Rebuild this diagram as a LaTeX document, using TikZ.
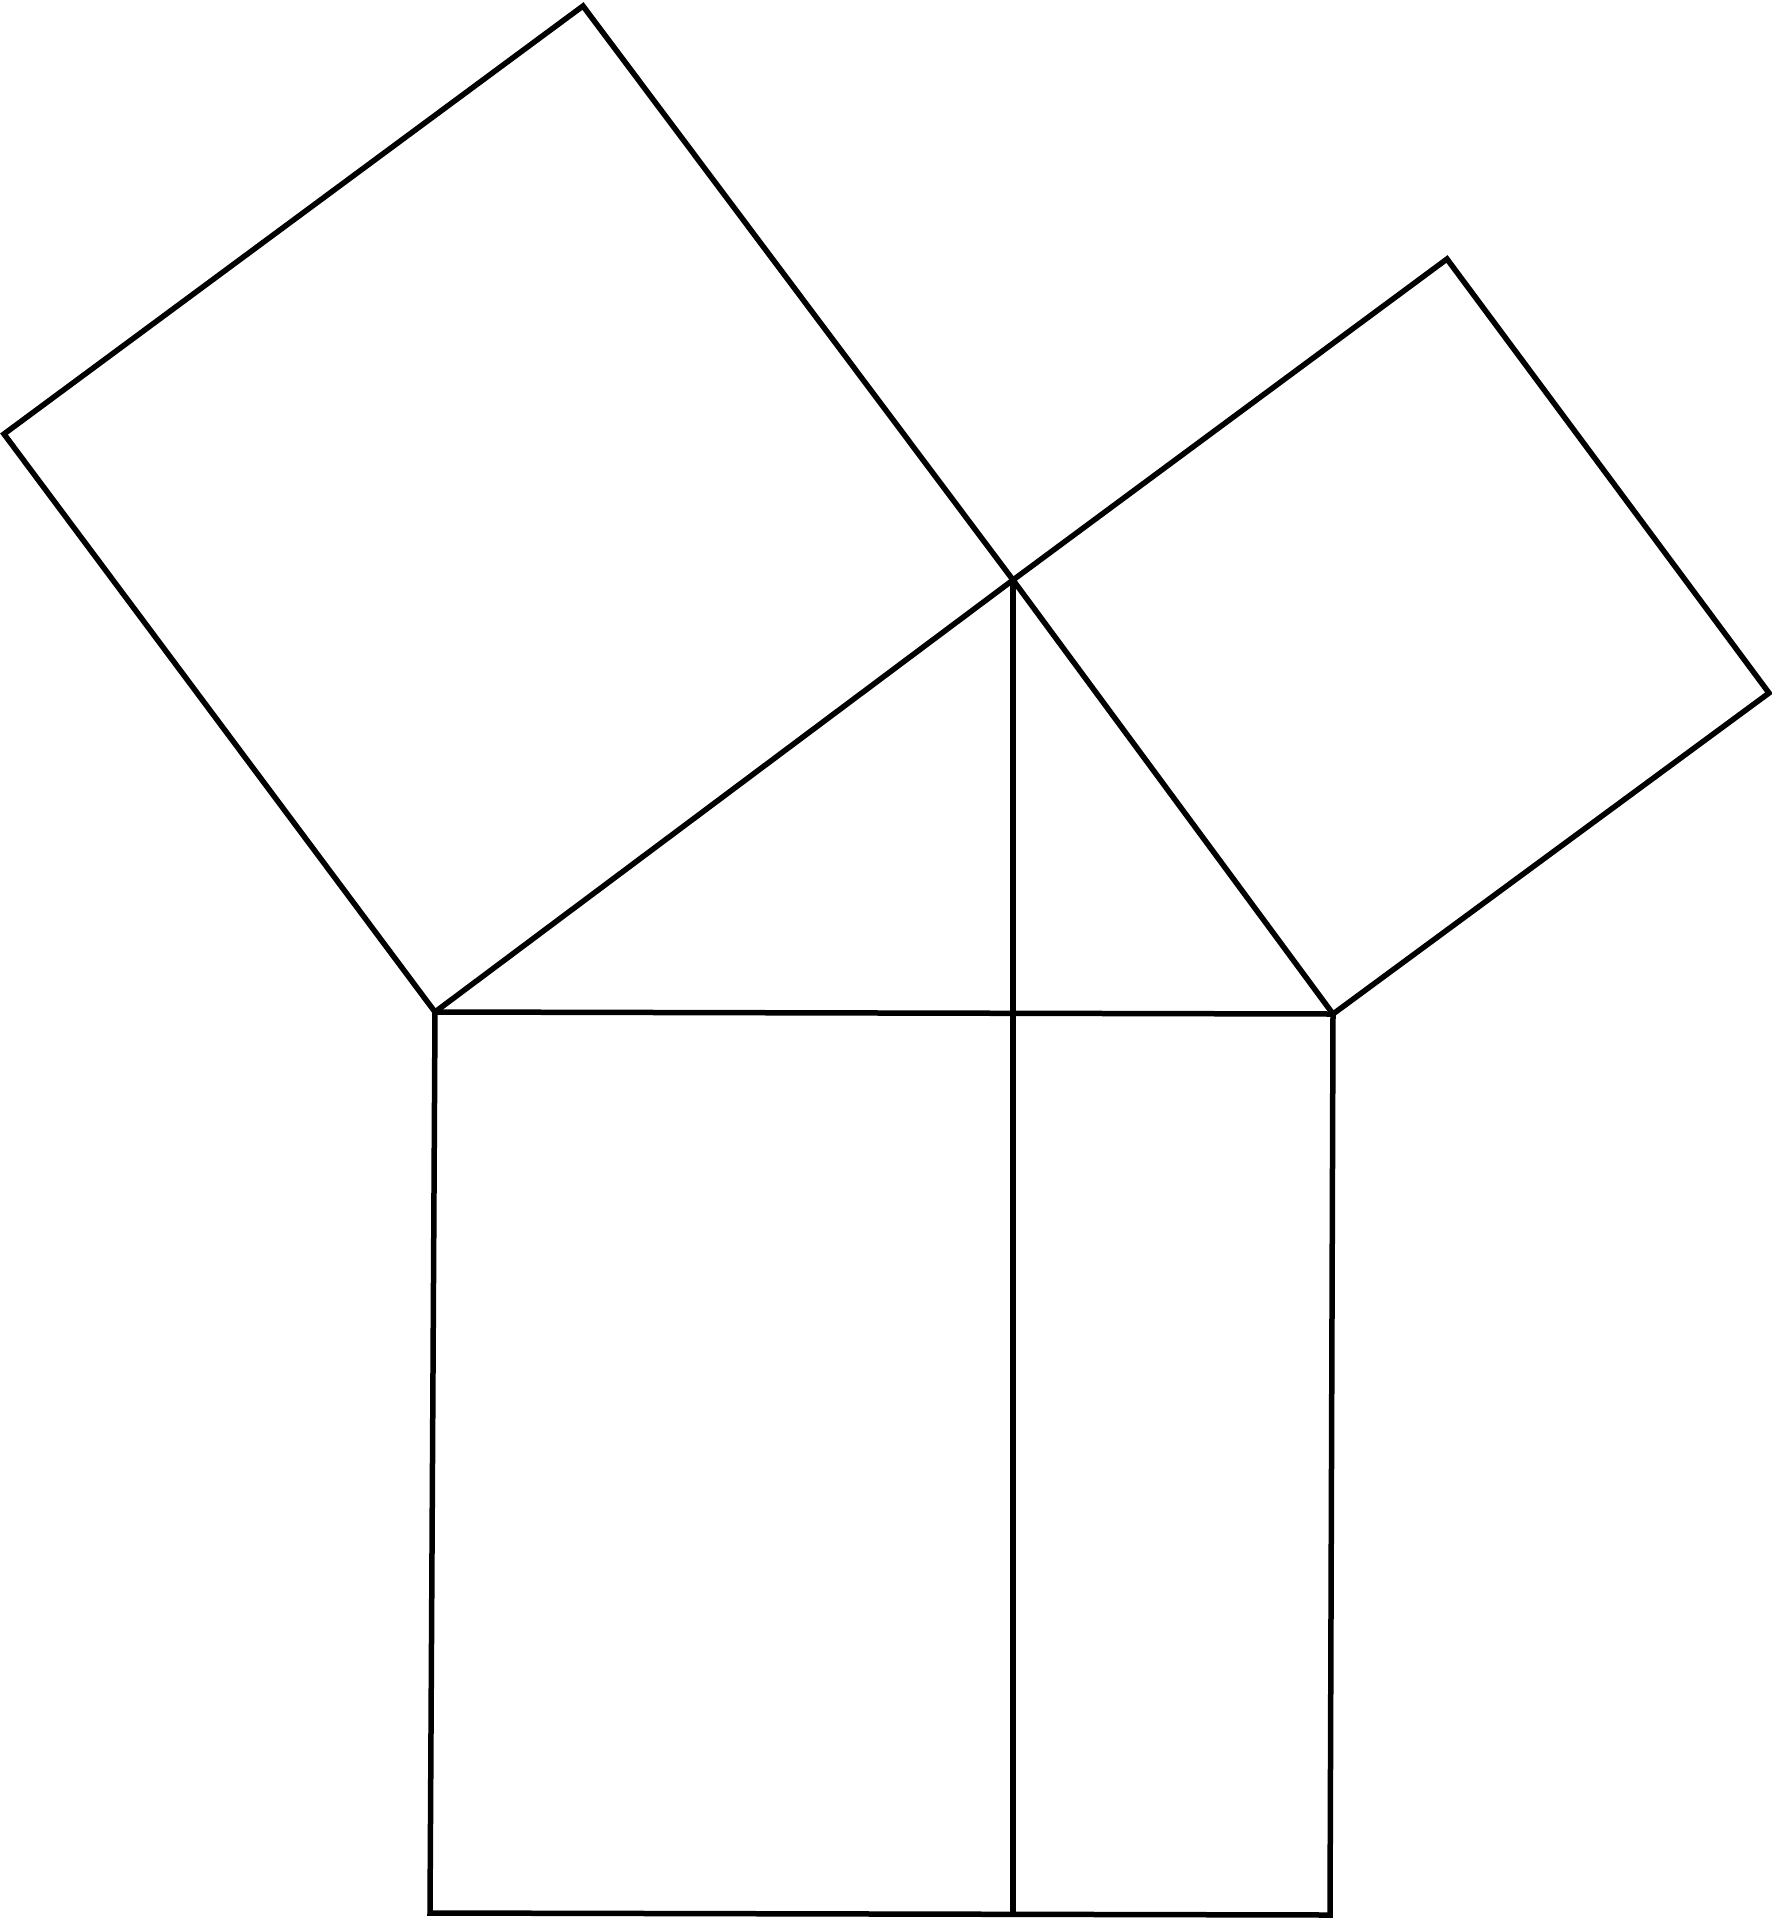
\documentclass[tikz,border=0pt]{standalone}
\begin{document}
\begin{tikzpicture}[x=1pt,y=-1pt,edge/.style={draw=black,line width=5.5pt,line join=miter}]
\useasboundingbox (0,0) rectangle (1772,1920);
\coordinate (A) at (435,1012);
\coordinate (B) at (1333,1014);
\coordinate (C) at (1013,580);
\coordinate (T) at (583,6);
\coordinate (L) at (4,434);
\coordinate (RT) at (1447,259);
\coordinate (R) at (1769,693);
\coordinate (BL) at (430,1913);
\coordinate (BR) at (1330,1915);
\coordinate (F) at (1013,1914);
\path[edge] (A) -- (C) -- (T) -- (L) -- cycle;
\path[edge] (C) -- (RT) -- (R) -- (B) -- cycle;
\path[edge] (A) -- (B) -- (BR) -- (BL) -- cycle;
\path[edge] (C) -- (F);
\end{tikzpicture}
\end{document}
